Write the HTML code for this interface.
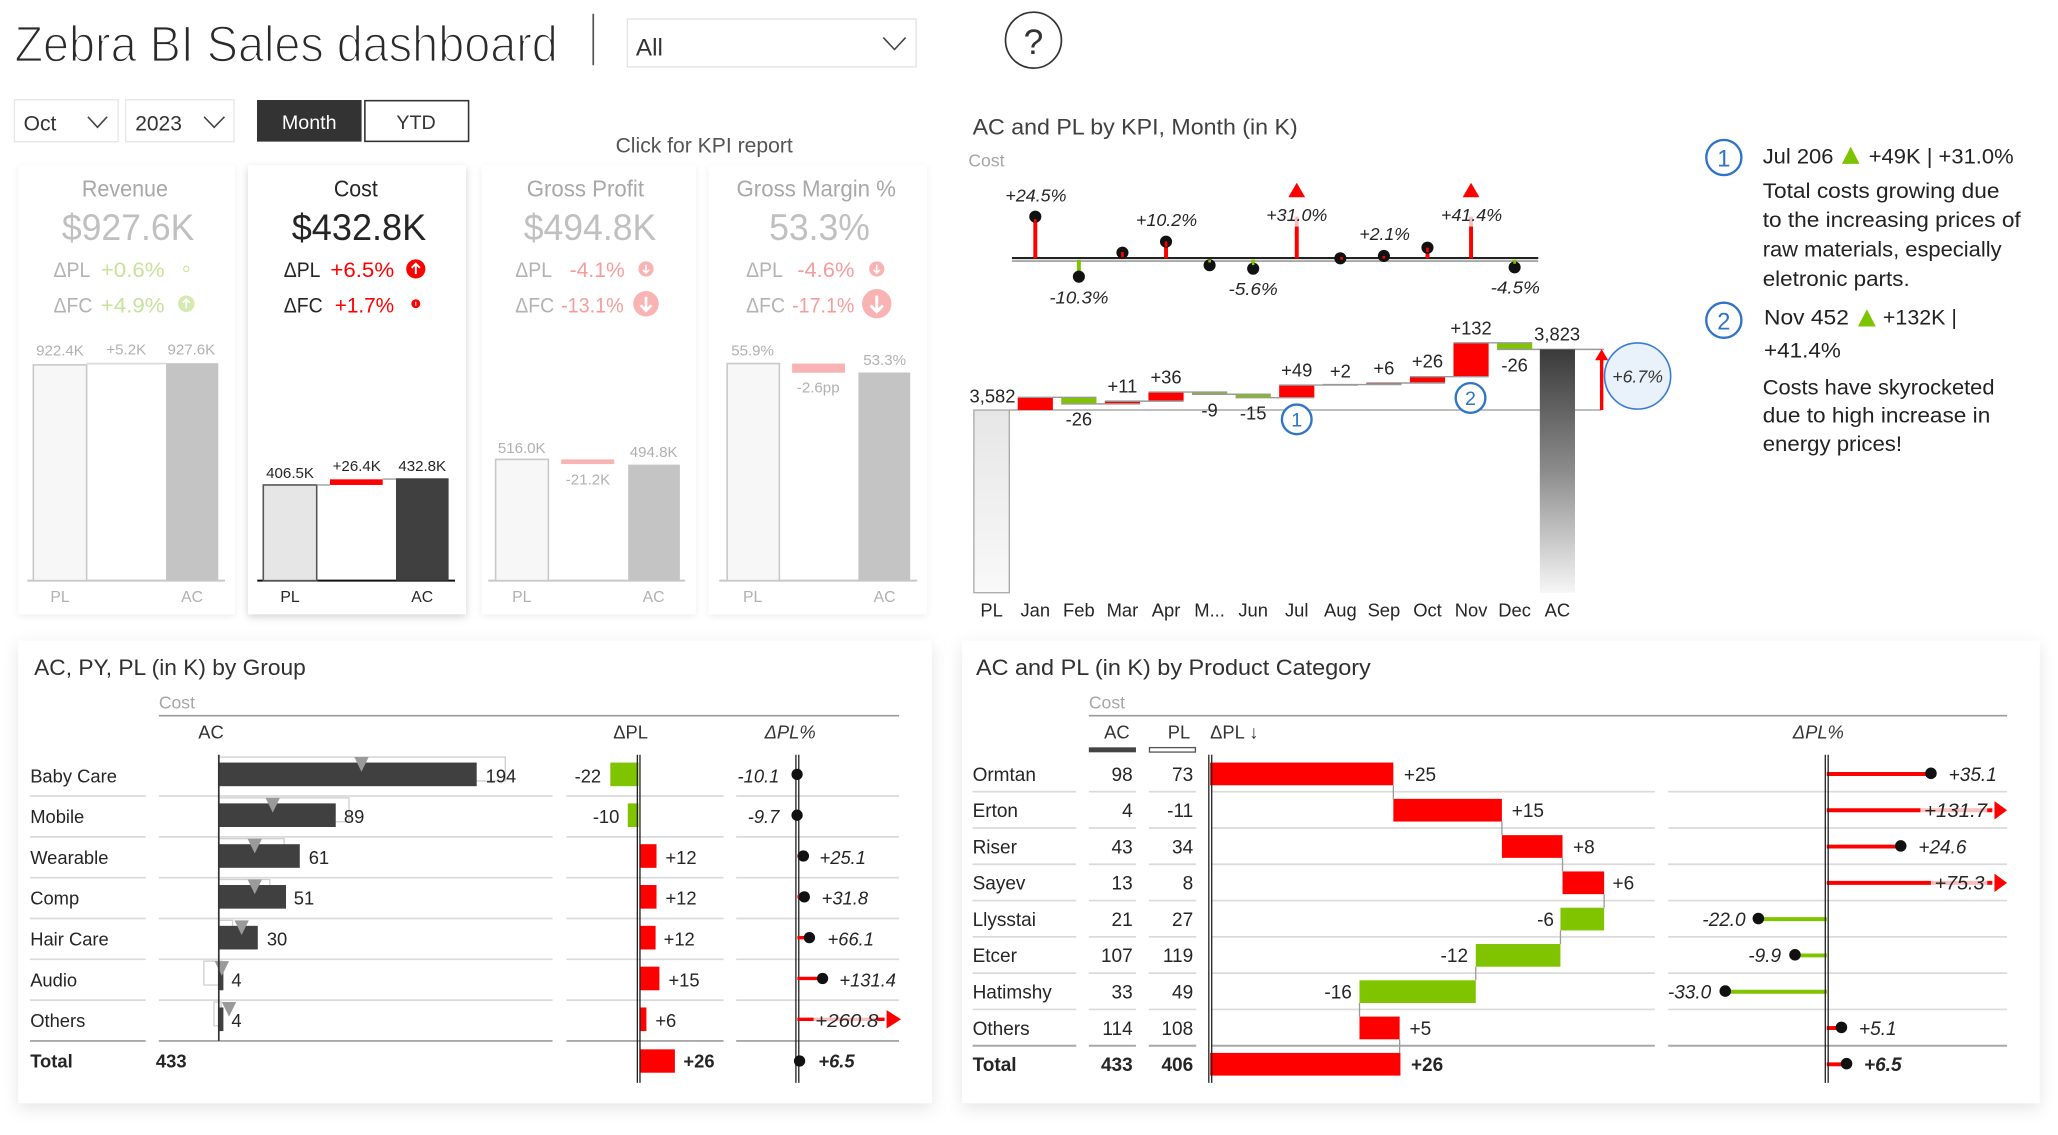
<!DOCTYPE html>
<html><head><meta charset="utf-8"><style>
html,body{margin:0;padding:0;background:#fff;overflow:hidden;width:2058px;height:1135px}
svg{display:block}
text{font-family:"Liberation Sans","DejaVu Sans",sans-serif}
.i{font-style:italic}
.b{font-weight:bold}
</style></head><body>
<svg width="2058" height="1135" viewBox="0 0 1568 864.76" xmlns="http://www.w3.org/2000/svg">
<defs>
<filter id="sh1" x="-20%" y="-10%" width="140%" height="125%"><feDropShadow dx="0" dy="1.5" stdDeviation="2.5" flood-color="#000" flood-opacity="0.07"/></filter>
<filter id="sh2" x="-20%" y="-10%" width="140%" height="125%"><feDropShadow dx="0" dy="2" stdDeviation="3" flood-color="#000" flood-opacity="0.18"/></filter>
<filter id="sh3" x="-5%" y="-10%" width="110%" height="125%"><feDropShadow dx="0" dy="4" stdDeviation="6" flood-color="#000" flood-opacity="0.1"/></filter>
<linearGradient id="acg" x1="0" y1="0" x2="0" y2="1"><stop offset="0" stop-color="#3a3a3a"/><stop offset="0.5" stop-color="#8c8c8c"/><stop offset="1" stop-color="#f6f6f6"/></linearGradient>
<linearGradient id="plg" x1="0" y1="0" x2="0" y2="1"><stop offset="0" stop-color="#e6e6e6"/><stop offset="1" stop-color="#f9f9f9"/></linearGradient>
</defs>

<!-- HEADER -->
<text x="11" y="46.7" font-size="38.5" fill="#2a2a2a" stroke="#fff" stroke-width="1.3" textLength="414" lengthAdjust="spacingAndGlyphs">Zebra BI Sales dashboard</text>
<line x1="452" y1="10.5" x2="452" y2="49.7" stroke="#555" stroke-width="1.3"/>
<rect x="478" y="14.5" width="220" height="36.5" fill="#fff" stroke="#e3e3e3" stroke-width="1"/>
<text x="484.5" y="42.2" font-size="18.5" fill="#333">All</text>
<polyline points="673,28.6 681.5,37.7 690,28.6" fill="none" stroke="#444" stroke-width="1.2"/>
<circle cx="787.4" cy="30.6" r="21.3" fill="none" stroke="#333" stroke-width="1.3"/>
<text x="787.4" y="41" font-size="27" fill="#333" text-anchor="middle">?</text>

<rect x="11" y="76" width="79" height="32" fill="#fff" stroke="#e6e6e6"/>
<text x="18" y="99.4" font-size="16" fill="#333">Oct</text>
<polyline points="67,89 74.3,97 81.6,89" fill="none" stroke="#444" stroke-width="1.2"/>
<rect x="95.7" y="76" width="82.6" height="32" fill="#fff" stroke="#e6e6e6"/>
<text x="103" y="99.4" font-size="16" fill="#333">2023</text>
<polyline points="155.5,89 163.2,97 171,89" fill="none" stroke="#444" stroke-width="1.2"/>
<rect x="195.8" y="76.2" width="79.7" height="31.7" fill="#333"/>
<text x="235.6" y="98.2" font-size="15" fill="#fff" text-anchor="middle">Month</text>
<rect x="278" y="76.7" width="79" height="31" fill="#fff" stroke="#333" stroke-width="1.2"/>
<text x="317" y="98.2" font-size="15" fill="#333" text-anchor="middle">YTD</text>
<text x="469" y="116" font-size="16" fill="#555" textLength="135" lengthAdjust="spacingAndGlyphs">Click for KPI report</text>

<!-- KPI CARDS -->
<rect x="14" y="126" width="165" height="342" fill="#fff" filter="url(#sh1)"/>
<rect x="189" y="126" width="166" height="342" fill="#fff" filter="url(#sh2)"/>
<rect x="367" y="126" width="163" height="342" fill="#fff" filter="url(#sh1)"/>
<rect x="540" y="126" width="166" height="342" fill="#fff" filter="url(#sh1)"/>

<!-- Revenue -->
<text x="95.2" y="149.7" font-size="17.5" fill="#a8a8a8" text-anchor="middle" textLength="65.6" lengthAdjust="spacingAndGlyphs">Revenue</text>
<text x="97.6" y="182.9" font-size="28.5" fill="#c0c0c0" text-anchor="middle" textLength="101" lengthAdjust="spacingAndGlyphs">$927.6K</text>
<text x="40.8" y="210.9" font-size="16.5" fill="#b3b3b3" textLength="28" lengthAdjust="spacingAndGlyphs">ΔPL</text>
<text x="76.8" y="210.9" font-size="16.5" fill="#c6e29b" textLength="48.6" lengthAdjust="spacingAndGlyphs">+0.6%</text>
<circle cx="141.9" cy="204.9" r="2" fill="none" stroke="#cfe6ab" stroke-width="1"/>
<text x="40.8" y="238" font-size="16.5" fill="#b3b3b3" textLength="29.6" lengthAdjust="spacingAndGlyphs">ΔFC</text>
<text x="76.8" y="238" font-size="16.5" fill="#c6e29b" textLength="48.6" lengthAdjust="spacingAndGlyphs">+4.9%</text>
<circle cx="141.9" cy="231.4" r="6.3" fill="#d4eab0"/>
<path d="M141.9 234.87V227.93M139.25 230.64L141.9 227.93L144.55 230.64" fill="none" stroke="#fff" stroke-width="1.3"/>
<line x1="20.8" y1="442.4" x2="171.4" y2="442.4" stroke="#c8c8c8" stroke-width="1.5"/>
<rect x="25.4" y="278" width="40.6" height="164.4" fill="#f7f7f7" stroke="#c8c8c8" stroke-width="1.2"/>
<line x1="66" y1="277" x2="126.5" y2="277" stroke="#dcdcdc" stroke-width="1.5"/>
<rect x="126.5" y="276.7" width="39.8" height="165.7" fill="#c4c4c4"/>
<text x="45.7" y="271" font-size="11.5" fill="#b0b0b0" text-anchor="middle">922.4K</text>
<text x="96.2" y="270" font-size="11.5" fill="#b0b0b0" text-anchor="middle">+5.2K</text>
<text x="145.8" y="270" font-size="11.5" fill="#b0b0b0" text-anchor="middle">927.6K</text>
<text x="45.7" y="458.5" font-size="12" fill="#b0b0b0" text-anchor="middle">PL</text>
<text x="146.3" y="458.5" font-size="12" fill="#b0b0b0" text-anchor="middle">AC</text>

<!-- Cost -->
<text x="271.1" y="149.7" font-size="17.5" fill="#252525" text-anchor="middle" textLength="33.5" lengthAdjust="spacingAndGlyphs">Cost</text>
<text x="273.5" y="182.9" font-size="28.5" fill="#252525" text-anchor="middle" textLength="102.5" lengthAdjust="spacingAndGlyphs">$432.8K</text>
<text x="216.2" y="210.9" font-size="16.5" fill="#252525" textLength="28" lengthAdjust="spacingAndGlyphs">ΔPL</text>
<text x="251.7" y="210.9" font-size="16.5" fill="#f00" textLength="48.6" lengthAdjust="spacingAndGlyphs">+6.5%</text>
<circle cx="316.8" cy="204.9" r="7.3" fill="#f00"/>
<path d="M316.8 208.9V200.9M313.73 204.02L316.8 200.9L319.87 204.02" fill="none" stroke="#fff" stroke-width="1.5"/>
<text x="216.2" y="238" font-size="16.5" fill="#252525" textLength="29.6" lengthAdjust="spacingAndGlyphs">ΔFC</text>
<text x="255" y="238" font-size="16.5" fill="#f00" textLength="45.3" lengthAdjust="spacingAndGlyphs">+1.7%</text>
<circle cx="316.8" cy="231.4" r="3.4" fill="#f00"/>
<path d="M316.8 233V229.8" stroke="#fff" stroke-width="0.8"/>
<line x1="196" y1="442.4" x2="346.7" y2="442.4" stroke="#111" stroke-width="1.5"/>
<rect x="200.6" y="369.5" width="40.7" height="72.9" fill="#e6e6e6" stroke="#555" stroke-width="1.2"/>
<line x1="241.3" y1="369.5" x2="251.4" y2="369.5" stroke="#999" stroke-width="1"/>
<rect x="251.4" y="365.2" width="40.2" height="4.3" fill="#f00"/>
<line x1="291.6" y1="365" x2="301.7" y2="365" stroke="#999" stroke-width="1"/>
<rect x="301.7" y="364.4" width="40.1" height="78" fill="#404040"/>
<text x="221" y="364" font-size="11.5" fill="#252525" text-anchor="middle">406.5K</text>
<text x="271.8" y="359" font-size="11.5" fill="#252525" text-anchor="middle">+26.4K</text>
<text x="321.7" y="359" font-size="11.5" fill="#252525" text-anchor="middle">432.8K</text>
<text x="221" y="458.5" font-size="12" fill="#252525" text-anchor="middle">PL</text>
<text x="321.7" y="458.5" font-size="12" fill="#252525" text-anchor="middle">AC</text>

<!-- Gross Profit -->
<text x="446" y="149.7" font-size="17.5" fill="#a8a8a8" text-anchor="middle" textLength="89.4" lengthAdjust="spacingAndGlyphs">Gross Profit</text>
<text x="449.5" y="182.9" font-size="28.5" fill="#c0c0c0" text-anchor="middle" textLength="101" lengthAdjust="spacingAndGlyphs">$494.8K</text>
<text x="392.6" y="210.9" font-size="16.5" fill="#b3b3b3" textLength="28" lengthAdjust="spacingAndGlyphs">ΔPL</text>
<text x="434" y="210.9" font-size="16.5" fill="#f59d9d" textLength="42" lengthAdjust="spacingAndGlyphs">-4.1%</text>
<circle cx="492.2" cy="204.9" r="5.8" fill="#f9b3b3"/>
<path d="M492.2 201.7V208.1M489.76 205.6L492.2 208.1L494.64 205.6" fill="none" stroke="#fff" stroke-width="1.2"/>
<text x="392.6" y="238" font-size="16.5" fill="#b3b3b3" textLength="29.6" lengthAdjust="spacingAndGlyphs">ΔFC</text>
<text x="427.5" y="238" font-size="16.5" fill="#f59d9d" textLength="47.7" lengthAdjust="spacingAndGlyphs">-13.1%</text>
<circle cx="492.2" cy="231.4" r="9.7" fill="#f9b3b3"/>
<path d="M492.2 226.06V236.74M488.13 232.56L492.2 236.74L496.27 232.56" fill="none" stroke="#fff" stroke-width="2"/>
<line x1="372" y1="442.4" x2="522" y2="442.4" stroke="#c8c8c8" stroke-width="1.5"/>
<rect x="377.6" y="350" width="40.2" height="92.4" fill="#f7f7f7" stroke="#c8c8c8" stroke-width="1.2"/>
<rect x="427.6" y="350" width="40.4" height="3.6" fill="#f8b4b4"/>
<rect x="478.6" y="354" width="39.4" height="88.4" fill="#c4c4c4"/>
<text x="397.5" y="345" font-size="11.5" fill="#b0b0b0" text-anchor="middle">516.0K</text>
<text x="448" y="369" font-size="11.5" fill="#b0b0b0" text-anchor="middle">-21.2K</text>
<text x="498" y="348" font-size="11.5" fill="#b0b0b0" text-anchor="middle">494.8K</text>
<text x="397.5" y="458.5" font-size="12" fill="#b0b0b0" text-anchor="middle">PL</text>
<text x="498" y="458.5" font-size="12" fill="#b0b0b0" text-anchor="middle">AC</text>

<!-- Gross Margin -->
<text x="621.9" y="149.7" font-size="17.5" fill="#a8a8a8" text-anchor="middle" textLength="121.5" lengthAdjust="spacingAndGlyphs">Gross Margin %</text>
<text x="624.4" y="182.9" font-size="28.5" fill="#c0c0c0" text-anchor="middle" textLength="76.8" lengthAdjust="spacingAndGlyphs">53.3%</text>
<text x="568.5" y="210.9" font-size="16.5" fill="#b3b3b3" textLength="28" lengthAdjust="spacingAndGlyphs">ΔPL</text>
<text x="607.4" y="210.9" font-size="16.5" fill="#f59d9d" textLength="43.6" lengthAdjust="spacingAndGlyphs">-4.6%</text>
<circle cx="668" cy="204.9" r="5.8" fill="#f9b3b3"/>
<path d="M668 201.7V208.1M665.56 205.6L668 208.1L670.44 205.6" fill="none" stroke="#fff" stroke-width="1.2"/>
<text x="568.5" y="238" font-size="16.5" fill="#b3b3b3" textLength="29.6" lengthAdjust="spacingAndGlyphs">ΔFC</text>
<text x="603.5" y="238" font-size="16.5" fill="#f59d9d" textLength="47.5" lengthAdjust="spacingAndGlyphs">-17.1%</text>
<circle cx="668" cy="231.4" r="11.2" fill="#f9b3b3"/>
<path d="M668 225.24V237.56M663.3 232.74L668 237.56L672.7 232.74" fill="none" stroke="#fff" stroke-width="2.2"/>
<line x1="548" y1="442.4" x2="698.8" y2="442.4" stroke="#c8c8c8" stroke-width="1.5"/>
<rect x="554" y="277" width="39.8" height="165.4" fill="#f7f7f7" stroke="#c8c8c8" stroke-width="1.2"/>
<rect x="603.5" y="277" width="40.3" height="7" fill="#f8b4b4"/>
<rect x="654" y="283.8" width="39.5" height="158.6" fill="#c4c4c4"/>
<text x="573.4" y="271" font-size="11.5" fill="#b0b0b0" text-anchor="middle">55.9%</text>
<text x="623.4" y="299" font-size="11.5" fill="#b0b0b0" text-anchor="middle">-2.6pp</text>
<text x="674" y="278" font-size="11.5" fill="#b0b0b0" text-anchor="middle">53.3%</text>
<text x="573.4" y="458.5" font-size="12" fill="#b0b0b0" text-anchor="middle">PL</text>
<text x="674" y="458.5" font-size="12" fill="#b0b0b0" text-anchor="middle">AC</text>

<!-- TOP RIGHT CHART -->
<text x="741" y="102.5" font-size="17" fill="#404040" textLength="247.7" lengthAdjust="spacingAndGlyphs">AC and PL by KPI, Month (in K)</text>
<text x="737.8" y="127" font-size="13.4" fill="#a6a6a6">Cost</text>

<!-- lollipop -->
<line x1="771" y1="196.6" x2="1172" y2="196.6" stroke="#222" stroke-width="1.6"/>
<line x1="771" y1="198.9" x2="1172" y2="198.9" stroke="#888" stroke-width="1"/>
<g stroke-width="3">
<line x1="788.8" y1="196.8" x2="788.8" y2="165.1" stroke="#f00"/>
<line x1="822" y1="198" x2="822" y2="210.8" stroke="#80c400"/>
<line x1="855.2" y1="196.8" x2="855.2" y2="192.5" stroke="#f00"/>
<line x1="888.4" y1="196.8" x2="888.4" y2="184.1" stroke="#f00"/>
<line x1="921.6" y1="198" x2="921.6" y2="202.1" stroke="#80c400"/>
<line x1="954.8" y1="198" x2="954.8" y2="204.7" stroke="#80c400"/>
<line x1="988" y1="196.8" x2="988" y2="172.6" stroke="#f00"/>
<line x1="988" y1="172.6" x2="988" y2="165.1" stroke="#f9c0c0"/>
<line x1="1054.4" y1="196.8" x2="1054.4" y2="195" stroke="#f00"/>
<line x1="1087.6" y1="196.8" x2="1087.6" y2="188.7" stroke="#f00"/>
<line x1="1120.8" y1="196.8" x2="1120.8" y2="172.6" stroke="#f00"/>
<line x1="1120.8" y1="172.6" x2="1120.8" y2="165.1" stroke="#f9c0c0"/>
<line x1="1154" y1="198" x2="1154" y2="203.7" stroke="#80c400"/>
</g>
<g fill="#111">
<circle cx="788.8" cy="165.1" r="4.6"/>
<circle cx="822" cy="210.8" r="4.6"/>
<circle cx="855.2" cy="192.5" r="4.6"/>
<circle cx="888.4" cy="184.1" r="4.6"/>
<circle cx="921.6" cy="202.1" r="4.6"/>
<circle cx="954.8" cy="204.7" r="4.6"/>
<circle cx="1021.2" cy="196.8" r="4.6"/>
<circle cx="1054.4" cy="195" r="4.6"/>
<circle cx="1087.6" cy="188.7" r="4.6"/>
<circle cx="1154" cy="203.7" r="4.6"/>
</g>
<g stroke-width="2">
<line x1="788.8" y1="167" x2="788.8" y2="169.5" stroke="#f00"/>
<line x1="855.2" y1="192" x2="855.2" y2="196" stroke="#f00"/>
<line x1="888.4" y1="184" x2="888.4" y2="188" stroke="#f00"/>
<line x1="1021.2" y1="196.8" x2="1023.2" y2="196.8" stroke="#f00"/>
<line x1="1054.4" y1="195" x2="1054.4" y2="197" stroke="#f00"/>
<line x1="1087.6" y1="188.7" x2="1087.6" y2="192" stroke="#f00"/>
<line x1="921.6" y1="198" x2="921.6" y2="200" stroke="#80c400"/>
<line x1="954.8" y1="198" x2="954.8" y2="202" stroke="#80c400"/>
<line x1="1154" y1="198" x2="1154" y2="201" stroke="#80c400"/>
</g>
<polygon points="981.6,150.3 988,139.2 994.4,150.3" fill="#f00"/>
<polygon points="1114.4,150.3 1120.8,139.2 1127.2,150.3" fill="#f00"/>
<g font-size="13.2" fill="#252525" class="i" text-anchor="middle">
<text x="789.3" y="153.6" class="i" textLength="46.5" lengthAdjust="spacingAndGlyphs">+24.5%</text>
<text x="822" y="231.1" class="i" textLength="45" lengthAdjust="spacingAndGlyphs">-10.3%</text>
<text x="888.8" y="172.2" class="i" textLength="46.5" lengthAdjust="spacingAndGlyphs">+10.2%</text>
<text x="954.8" y="224.8" class="i" textLength="37.5" lengthAdjust="spacingAndGlyphs">-5.6%</text>
<text x="988" y="168.4" class="i" textLength="46.5" lengthAdjust="spacingAndGlyphs">+31.0%</text>
<text x="1055" y="182.9" class="i" textLength="38.5" lengthAdjust="spacingAndGlyphs">+2.1%</text>
<text x="1121.2" y="168.4" class="i" textLength="46.5" lengthAdjust="spacingAndGlyphs">+41.4%</text>
<text x="1154.5" y="223.5" class="i" textLength="37.5" lengthAdjust="spacingAndGlyphs">-4.5%</text>
</g>

<!-- waterfall -->
<rect x="742" y="312.4" width="27" height="139.2" fill="url(#plg)" stroke="#a8a8a8" stroke-width="1"/>
<line x1="769" y1="312.4" x2="1220" y2="312.4" stroke="#a8a8a8" stroke-width="1.1"/>
<g fill="#f00">
<rect x="775.4" y="302.7" width="26.8" height="9.7"/>
<rect x="841.8" y="305.6" width="26.8" height="2.1"/>
<rect x="875" y="298.7" width="26.8" height="6.9"/>
<rect x="974.6" y="293.4" width="26.8" height="9.6"/>
<rect x="1007.8" y="293" width="26.8" height="0.6"/>
<rect x="1041" y="291.8" width="26.8" height="1.2"/>
<rect x="1074.2" y="287" width="26.8" height="4.8"/>
<rect x="1107.4" y="261.2" width="26.8" height="25.8"/>
</g>
<g fill="#80c400">
<rect x="808.6" y="302.7" width="26.8" height="5"/>
<rect x="908.2" y="298.7" width="26.8" height="1.7"/>
<rect x="941.4" y="300.4" width="26.8" height="2.6"/>
<rect x="1140.6" y="261.2" width="26.8" height="5"/>
</g>
<g stroke="#9a9a9a" stroke-width="1.1">
<line x1="775.4" y1="302.7" x2="835.4" y2="302.7"/>
<line x1="808.6" y1="307.7" x2="868.6" y2="307.7"/>
<line x1="841.8" y1="305.6" x2="901.8" y2="305.6"/>
<line x1="875" y1="298.7" x2="935" y2="298.7"/>
<line x1="908.2" y1="300.4" x2="968.2" y2="300.4"/>
<line x1="941.4" y1="303" x2="1001.4" y2="303"/>
<line x1="974.6" y1="293.4" x2="1034.6" y2="293.4"/>
<line x1="1007.8" y1="293" x2="1067.8" y2="293"/>
<line x1="1041" y1="291.8" x2="1101" y2="291.8"/>
<line x1="1074.2" y1="287" x2="1134.2" y2="287"/>
<line x1="1107.4" y1="261.2" x2="1167.4" y2="261.2"/>
<line x1="1140.6" y1="266.2" x2="1222" y2="266.2"/>
</g>
<rect x="1173.2" y="266.2" width="26.8" height="185.4" fill="url(#acg)"/>
<line x1="1220.3" y1="312.4" x2="1220.3" y2="273" stroke="#f00" stroke-width="2.6"/>
<polygon points="1215.3,274.5 1220.3,266 1225.3,274.5" fill="#f00"/>
<circle cx="1247.7" cy="286.5" r="25.2" fill="#e9f1fb" stroke="#3a7bd5" stroke-width="1.2"/>
<text x="1247.7" y="291.5" font-size="13.5" fill="#333" class="i" text-anchor="middle">+6.7%</text>
<circle cx="988" cy="319.5" r="11.3" fill="#fff" stroke="#2f74c6" stroke-width="1.8"/>
<text x="988" y="325" font-size="15" fill="#2f74c6" text-anchor="middle">1</text>
<circle cx="1120.4" cy="303.2" r="11.3" fill="#fff" stroke="#2f74c6" stroke-width="1.8"/>
<text x="1120.4" y="308.7" font-size="15" fill="#2f74c6" text-anchor="middle">2</text>
<g font-size="14" fill="#252525" text-anchor="middle">
<text x="756.2" y="306.8">3,582</text>
<text x="822" y="324.3">-26</text>
<text x="855.2" y="298.9">+11</text>
<text x="888.4" y="292">+36</text>
<text x="921.6" y="317.5">-9</text>
<text x="954.8" y="319.5">-15</text>
<text x="988" y="287">+49</text>
<text x="1021.2" y="287.5">+2</text>
<text x="1054.4" y="285.2">+6</text>
<text x="1087.6" y="280.1">+26</text>
<text x="1120.8" y="254.7">+132</text>
<text x="1154" y="283.2">-26</text>
<text x="1186.4" y="259.6">3,823</text>
</g>
<g font-size="14" fill="#252525" text-anchor="middle">
<text x="755.5" y="469.8">PL</text>
<text x="788.8" y="469.8">Jan</text>
<text x="822" y="469.8">Feb</text>
<text x="855.2" y="469.8">Mar</text>
<text x="888.4" y="469.8">Apr</text>
<text x="921.6" y="469.8">M...</text>
<text x="954.8" y="469.8">Jun</text>
<text x="988" y="469.8">Jul</text>
<text x="1021.2" y="469.8">Aug</text>
<text x="1054.4" y="469.8">Sep</text>
<text x="1087.6" y="469.8">Oct</text>
<text x="1120.8" y="469.8">Nov</text>
<text x="1154" y="469.8">Dec</text>
<text x="1186.6" y="469.8">AC</text>
</g>

<!-- ANNOTATIONS -->
<circle cx="1313.4" cy="120" r="13.4" fill="none" stroke="#2f74c6" stroke-width="1.8"/>
<text x="1313.4" y="127" font-size="18" fill="#2f74c6" text-anchor="middle">1</text>
<text x="1343" y="124.5" font-size="16.5" fill="#222" textLength="53.9" lengthAdjust="spacingAndGlyphs">Jul 206</text>
<polygon points="1403.4,124.9 1410.1,111.7 1416.8,124.9" fill="#7dc400"/>
<text x="1423.8" y="124.5" font-size="16.5" fill="#222" textLength="110.4" lengthAdjust="spacingAndGlyphs">+49K | +31.0%</text>
<g font-size="16.5" fill="#222">
<text x="1343" y="151" textLength="180.4" lengthAdjust="spacingAndGlyphs">Total costs growing due</text>
<text x="1343" y="173" textLength="196.6" lengthAdjust="spacingAndGlyphs">to the increasing prices of</text>
<text x="1343" y="195.5" textLength="182" lengthAdjust="spacingAndGlyphs">raw materials, especially</text>
<text x="1343" y="218" textLength="112" lengthAdjust="spacingAndGlyphs">eletronic parts.</text>
</g>
<circle cx="1313.4" cy="244" r="13.4" fill="none" stroke="#2f74c6" stroke-width="1.8"/>
<text x="1313.4" y="251" font-size="18" fill="#2f74c6" text-anchor="middle">2</text>
<text x="1344" y="247.3" font-size="16.5" fill="#222" textLength="64.7" lengthAdjust="spacingAndGlyphs">Nov 452</text>
<polygon points="1415.6,248.8 1422.4,235.7 1429.2,248.8" fill="#7dc400"/>
<text x="1434.6" y="247.3" font-size="16.5" fill="#222" textLength="56.4" lengthAdjust="spacingAndGlyphs">+132K |</text>
<g font-size="16.5" fill="#222">
<text x="1344" y="272.4" textLength="58.5" lengthAdjust="spacingAndGlyphs">+41.4%</text>
<text x="1343" y="300.5" textLength="176.6" lengthAdjust="spacingAndGlyphs">Costs have skyrocketed</text>
<text x="1343" y="322" textLength="173.4" lengthAdjust="spacingAndGlyphs">due to high increase in</text>
<text x="1343" y="343.5" textLength="106.2" lengthAdjust="spacingAndGlyphs">energy prices!</text>
</g>

<!-- BOTTOM LEFT CARD -->
<rect x="14" y="488" width="696" height="352.5" fill="#fff" filter="url(#sh3)"/>
<text x="26" y="514.3" font-size="17" fill="#303030" textLength="207" lengthAdjust="spacingAndGlyphs">AC, PY, PL (in K) by Group</text>
<text x="121" y="539.7" font-size="13.4" fill="#a6a6a6">Cost</text>
<line x1="121" y1="545.3" x2="685" y2="545.3" stroke="#9a9a9a" stroke-width="1.3"/>
<text x="160.8" y="562.5" font-size="14" fill="#333" text-anchor="middle">AC</text>
<text x="480.5" y="562.5" font-size="14" fill="#333" text-anchor="middle">ΔPL</text>
<text x="602" y="562.5" font-size="14" fill="#333" text-anchor="middle" class="i">ΔPL%</text>
<g stroke="#dadada" stroke-width="1.3">
<line x1="22.8" y1="606.5" x2="111" y2="606.5"/><line x1="121" y1="606.5" x2="421" y2="606.5"/><line x1="431.6" y1="606.5" x2="551.3" y2="606.5"/><line x1="560.9" y1="606.5" x2="685" y2="606.5"/>
<line x1="22.8" y1="637.6" x2="111" y2="637.6"/><line x1="121" y1="637.6" x2="421" y2="637.6"/><line x1="431.6" y1="637.6" x2="551.3" y2="637.6"/><line x1="560.9" y1="637.6" x2="685" y2="637.6"/>
<line x1="22.8" y1="668.7" x2="111" y2="668.7"/><line x1="121" y1="668.7" x2="421" y2="668.7"/><line x1="431.6" y1="668.7" x2="551.3" y2="668.7"/><line x1="560.9" y1="668.7" x2="685" y2="668.7"/>
<line x1="22.8" y1="699.8" x2="111" y2="699.8"/><line x1="121" y1="699.8" x2="421" y2="699.8"/><line x1="431.6" y1="699.8" x2="551.3" y2="699.8"/><line x1="560.9" y1="699.8" x2="685" y2="699.8"/>
<line x1="22.8" y1="730.9" x2="111" y2="730.9"/><line x1="121" y1="730.9" x2="421" y2="730.9"/><line x1="431.6" y1="730.9" x2="551.3" y2="730.9"/><line x1="560.9" y1="730.9" x2="685" y2="730.9"/>
<line x1="22.8" y1="762" x2="111" y2="762"/><line x1="121" y1="762" x2="421" y2="762"/><line x1="431.6" y1="762" x2="551.3" y2="762"/><line x1="560.9" y1="762" x2="685" y2="762"/>
</g>
<g stroke="#a8a8a8" stroke-width="1.5">
<line x1="22.8" y1="793.1" x2="111" y2="793.1"/><line x1="121" y1="793.1" x2="421" y2="793.1"/><line x1="431.6" y1="793.1" x2="551.3" y2="793.1"/><line x1="560.9" y1="793.1" x2="685" y2="793.1"/>
</g>
<g font-size="14" fill="#252525">
<text x="23" y="596">Baby Care</text>
<text x="23" y="627.1">Mobile</text>
<text x="23" y="658.2">Wearable</text>
<text x="23" y="689.3">Comp</text>
<text x="23" y="720.4">Hair Care</text>
<text x="23" y="751.5">Audio</text>
<text x="23" y="782.6">Others</text>
<text x="23" y="813.5" class="b">Total</text>
<text x="118.8" y="813.5" class="b">433</text>
</g>
<!-- AC bars -->
<g fill="#fff" stroke="#cfcfcf" stroke-width="1">
<rect x="166.7" y="576.8" width="218.3" height="18.2"/>
<rect x="166.7" y="607.9" width="99.2" height="18.2"/>
<rect x="166.7" y="639" width="49.8" height="18.2"/>
<rect x="166.7" y="670.1" width="38.9" height="18.2"/>
<rect x="166.7" y="701.2" width="10.5" height="18.2"/>
<rect x="155.3" y="732.3" width="13.7" height="18.2"/>
<rect x="163" y="763.4" width="5.5" height="18.2"/>
</g>
<g fill="#404040">
<rect x="166.7" y="581" width="196.5" height="18"/>
<rect x="166.7" y="612.1" width="89.1" height="18"/>
<rect x="166.7" y="643.2" width="61.7" height="18"/>
<rect x="166.7" y="674.3" width="51.2" height="18"/>
<rect x="166.7" y="705.4" width="29.7" height="18"/>
<rect x="166.7" y="736.5" width="3.5" height="18"/>
<rect x="166.7" y="767.6" width="3.5" height="18"/>
</g>
<g fill="#9a9a9a">
<polygon points="269.9,576.8 280.9,576.8 275.4,588"/>
<polygon points="202.3,607.9 213.3,607.9 207.8,619.1"/>
<polygon points="188.6,639 199.6,639 194.1,650.2"/>
<polygon points="188.6,670.1 199.6,670.1 194.1,681.3"/>
<polygon points="178.6,701.2 189.6,701.2 184.1,712.4"/>
<polygon points="163.5,732.3 174.5,732.3 169,743.5"/>
<polygon points="169,763.4 180,763.4 174.5,774.6"/>
</g>
<line x1="166.7" y1="575" x2="166.7" y2="793" stroke="#333" stroke-width="1.3"/>
<g font-size="14" fill="#252525">
<text x="370" y="596">194</text>
<text x="262" y="627.1">89</text>
<text x="235.2" y="658.2">61</text>
<text x="223.8" y="689.3">51</text>
<text x="203.3" y="720.4">30</text>
<text x="176.3" y="751.5">4</text>
<text x="176.3" y="782.6">4</text>
</g>
<!-- ΔPL -->
<g fill="#80c400">
<rect x="465" y="581" width="21.5" height="18"/>
<rect x="478.3" y="612.1" width="8.2" height="18"/>
</g>
<g fill="#f00">
<rect x="487.4" y="643.2" width="12.8" height="18"/>
<rect x="487.4" y="674.3" width="12.8" height="18"/>
<rect x="487.4" y="705.4" width="12.1" height="18"/>
<rect x="487.4" y="736.5" width="15" height="18"/>
<rect x="487.4" y="767.6" width="5.1" height="18"/>
<rect x="487.4" y="799.5" width="26.8" height="17.8"/>
</g>
<line x1="485.6" y1="575" x2="485.6" y2="825" stroke="#222" stroke-width="1"/>
<line x1="487.6" y1="575" x2="487.6" y2="825" stroke="#222" stroke-width="1"/>
<g font-size="14" fill="#252525">
<text x="458" y="596" text-anchor="end">-22</text>
<text x="471.9" y="627.1" text-anchor="end">-10</text>
<text x="507" y="658.2">+12</text>
<text x="507" y="689.3">+12</text>
<text x="505.6" y="720.4">+12</text>
<text x="509.3" y="751.5">+15</text>
<text x="499.3" y="782.6">+6</text>
<text x="520.7" y="813.5" class="b">+26</text>
</g>
<!-- ΔPL% -->
<line x1="606.4" y1="575" x2="606.4" y2="825" stroke="#222" stroke-width="1"/>
<line x1="608.6" y1="575" x2="608.6" y2="825" stroke="#222" stroke-width="1"/>
<g stroke="#f00" stroke-width="2.6">
<line x1="607.5" y1="652.2" x2="612.1" y2="652.2"/>
<line x1="607.5" y1="683.3" x2="612.8" y2="683.3"/>
<line x1="607.5" y1="714.4" x2="616.7" y2="714.4"/>
<line x1="607.5" y1="745.5" x2="626.7" y2="745.5"/>
<line x1="607.5" y1="776.6" x2="620" y2="776.6"/>
</g>
<line x1="620" y1="776.6" x2="668" y2="776.6" stroke="#f9c0c0" stroke-width="2.6"/>
<line x1="668" y1="776.6" x2="674" y2="776.6" stroke="#f00" stroke-width="2.6"/>
<polygon points="675.5,769.6 686.5,776.6 675.5,783.6" fill="#f00"/>
<g fill="#111">
<circle cx="607.3" cy="590" r="4.3"/>
<circle cx="607.3" cy="621.1" r="4.3"/>
<circle cx="612.1" cy="652.2" r="4.3"/>
<circle cx="612.8" cy="683.3" r="4.3"/>
<circle cx="616.7" cy="714.4" r="4.3"/>
<circle cx="626.7" cy="745.5" r="4.3"/>
<circle cx="609.2" cy="808.4" r="4.3"/>
</g>
<g font-size="14" fill="#252525" class="i">
<text x="593.8" y="596" text-anchor="end" class="i">-10.1</text>
<text x="593.8" y="627.1" text-anchor="end" class="i">-9.7</text>
<text x="624.4" y="658.2" class="i">+25.1</text>
<text x="626" y="689.3" class="i">+31.8</text>
<text x="630.5" y="720.4" class="i">+66.1</text>
<text x="639.5" y="751.5" class="i">+131.4</text>
<text x="621.2" y="782.6" class="i" textLength="48" lengthAdjust="spacingAndGlyphs">+260.8</text>
<text x="623.5" y="813.5" class="i b">+6.5</text>
</g>

<!-- BOTTOM RIGHT CARD -->
<rect x="733" y="488" width="821" height="352.5" fill="#fff" filter="url(#sh3)"/>
<text x="743.6" y="514.3" font-size="17" fill="#303030" textLength="300.8" lengthAdjust="spacingAndGlyphs">AC and PL (in K) by Product Category</text>
<text x="829.6" y="539.7" font-size="13.4" fill="#a6a6a6">Cost</text>
<line x1="829.6" y1="545.3" x2="1529.2" y2="545.3" stroke="#9a9a9a" stroke-width="1.3"/>
<g font-size="14" fill="#333">
<text x="851" y="562.5" text-anchor="middle">AC</text>
<text x="898.3" y="562.5" text-anchor="middle">PL</text>
<text x="922" y="562.5">ΔPL ↓</text>
<text x="1385.4" y="562.5" text-anchor="middle" class="i">ΔPL%</text>
</g>
<rect x="829.6" y="569.4" width="35.9" height="3.8" fill="#444"/>
<rect x="875.8" y="569.6" width="35" height="3.4" fill="#fff" stroke="#555" stroke-width="1"/>
<g stroke="#dadada" stroke-width="1.3">
<line x1="741" y1="603.2" x2="820" y2="603.2"/><line x1="829.6" y1="603.2" x2="865.5" y2="603.2"/><line x1="875.3" y1="603.2" x2="911.4" y2="603.2"/><line x1="923.6" y1="603.2" x2="1260.8" y2="603.2"/><line x1="1271" y1="603.2" x2="1529.2" y2="603.2"/>
<line x1="741" y1="630.85" x2="820" y2="630.85"/><line x1="829.6" y1="630.85" x2="865.5" y2="630.85"/><line x1="875.3" y1="630.85" x2="911.4" y2="630.85"/><line x1="923.6" y1="630.85" x2="1260.8" y2="630.85"/><line x1="1271" y1="630.85" x2="1529.2" y2="630.85"/>
<line x1="741" y1="658.5" x2="820" y2="658.5"/><line x1="829.6" y1="658.5" x2="865.5" y2="658.5"/><line x1="875.3" y1="658.5" x2="911.4" y2="658.5"/><line x1="923.6" y1="658.5" x2="1260.8" y2="658.5"/><line x1="1271" y1="658.5" x2="1529.2" y2="658.5"/>
<line x1="741" y1="686.15" x2="820" y2="686.15"/><line x1="829.6" y1="686.15" x2="865.5" y2="686.15"/><line x1="875.3" y1="686.15" x2="911.4" y2="686.15"/><line x1="923.6" y1="686.15" x2="1260.8" y2="686.15"/><line x1="1271" y1="686.15" x2="1529.2" y2="686.15"/>
<line x1="741" y1="713.8" x2="820" y2="713.8"/><line x1="829.6" y1="713.8" x2="865.5" y2="713.8"/><line x1="875.3" y1="713.8" x2="911.4" y2="713.8"/><line x1="923.6" y1="713.8" x2="1260.8" y2="713.8"/><line x1="1271" y1="713.8" x2="1529.2" y2="713.8"/>
<line x1="741" y1="741.45" x2="820" y2="741.45"/><line x1="829.6" y1="741.45" x2="865.5" y2="741.45"/><line x1="875.3" y1="741.45" x2="911.4" y2="741.45"/><line x1="923.6" y1="741.45" x2="1260.8" y2="741.45"/><line x1="1271" y1="741.45" x2="1529.2" y2="741.45"/>
<line x1="741" y1="769.1" x2="820" y2="769.1"/><line x1="829.6" y1="769.1" x2="865.5" y2="769.1"/><line x1="875.3" y1="769.1" x2="911.4" y2="769.1"/><line x1="923.6" y1="769.1" x2="1260.8" y2="769.1"/><line x1="1271" y1="769.1" x2="1529.2" y2="769.1"/>
</g>
<g stroke="#a8a8a8" stroke-width="1.5">
<line x1="741" y1="796.75" x2="820" y2="796.75"/><line x1="829.6" y1="796.75" x2="865.5" y2="796.75"/><line x1="875.3" y1="796.75" x2="911.4" y2="796.75"/><line x1="923.6" y1="796.75" x2="1260.8" y2="796.75"/><line x1="1271" y1="796.75" x2="1529.2" y2="796.75"/>
</g>
<g font-size="14.5" fill="#252525">
<text x="741" y="594.9">Ormtan</text>
<text x="741" y="622.5">Erton</text>
<text x="741" y="650.2">Riser</text>
<text x="741" y="677.8">Sayev</text>
<text x="741" y="705.5">Llysstai</text>
<text x="741" y="733.1">Etcer</text>
<text x="741" y="760.8">Hatimshy</text>
<text x="741" y="788.4">Others</text>
<text x="741" y="816.1" class="b">Total</text>
</g>
<g font-size="14.5" fill="#252525" text-anchor="end">
<text x="863" y="594.9">98</text><text x="909.1" y="594.9">73</text>
<text x="863" y="622.5">4</text><text x="909.1" y="622.5">-11</text>
<text x="863" y="650.2">43</text><text x="909.1" y="650.2">34</text>
<text x="863" y="677.8">13</text><text x="909.1" y="677.8">8</text>
<text x="863" y="705.5">21</text><text x="909.1" y="705.5">27</text>
<text x="863" y="733.1">107</text><text x="909.1" y="733.1">119</text>
<text x="863" y="760.8">33</text><text x="909.1" y="760.8">49</text>
<text x="863" y="788.4">114</text><text x="909.1" y="788.4">108</text>
<text x="863" y="816.1" class="b">433</text><text x="909.1" y="816.1" class="b">406</text>
</g>
<!-- ΔPL waterfall -->
<g fill="#f00">
<rect x="922" y="581" width="139.6" height="17.3"/>
<rect x="1061.6" y="608.65" width="82.7" height="17.3"/>
<rect x="1144.3" y="636.3" width="46.2" height="17.3"/>
<rect x="1190.5" y="663.95" width="31.7" height="17.3"/>
<rect x="1035.8" y="774.55" width="30.6" height="17.3"/>
<rect x="922" y="802.2" width="145" height="17.3"/>
</g>
<g fill="#80c400">
<rect x="1188.9" y="691.6" width="33.3" height="17.3"/>
<rect x="1124.4" y="719.25" width="64.5" height="17.3"/>
<rect x="1035.8" y="746.9" width="88.6" height="17.3"/>
</g>
<g stroke="#9a9a9a" stroke-width="1">
<line x1="1061.6" y1="598.3" x2="1061.6" y2="608.65"/>
<line x1="1144.3" y1="625.95" x2="1144.3" y2="636.3"/>
<line x1="1190.5" y1="653.6" x2="1190.5" y2="663.95"/>
<line x1="1222.2" y1="681.25" x2="1222.2" y2="691.6"/>
<line x1="1188.9" y1="708.9" x2="1188.9" y2="719.25"/>
<line x1="1124.4" y1="736.55" x2="1124.4" y2="746.9"/>
<line x1="1035.8" y1="764.2" x2="1035.8" y2="774.55"/>
<line x1="1066.4" y1="791.85" x2="1066.4" y2="802.2"/>
</g>
<line x1="921" y1="575" x2="921" y2="825" stroke="#222" stroke-width="1"/>
<line x1="923.2" y1="575" x2="923.2" y2="825" stroke="#222" stroke-width="1"/>
<g font-size="14.5" fill="#252525">
<text x="1069.6" y="594.9">+25</text>
<text x="1151.8" y="622.5">+15</text>
<text x="1198.5" y="650.2">+8</text>
<text x="1228.6" y="677.8">+6</text>
<text x="1184" y="705.5" text-anchor="end">-6</text>
<text x="1118.5" y="733.1" text-anchor="end">-12</text>
<text x="1030" y="760.8" text-anchor="end">-16</text>
<text x="1073.9" y="788.4">+5</text>
<text x="1075" y="816.1" class="b">+26</text>
</g>
<!-- ΔPL% -->
<g stroke="#f00" stroke-width="3">
<line x1="1391.8" y1="589.7" x2="1471.2" y2="589.7"/>
<line x1="1391.8" y1="617.35" x2="1463.2" y2="617.35"/>
<line x1="1391.8" y1="645" x2="1448.2" y2="645"/>
<line x1="1391.8" y1="672.65" x2="1471.2" y2="672.65"/>
<line x1="1391.8" y1="783.25" x2="1403" y2="783.25"/>
<line x1="1391.8" y1="810.9" x2="1406.9" y2="810.9"/>
<line x1="1514" y1="617.35" x2="1518" y2="617.35"/>
<line x1="1514" y1="672.65" x2="1518" y2="672.65"/>
</g>
<line x1="1463.2" y1="617.35" x2="1514" y2="617.35" stroke="#f9c0c0" stroke-width="3"/>
<line x1="1471.2" y1="672.65" x2="1514" y2="672.65" stroke="#f9c0c0" stroke-width="3"/>
<polygon points="1519.6,610.35 1529.2,617.35 1519.6,624.35" fill="#f00"/>
<polygon points="1519.6,665.65 1529.2,672.65 1519.6,679.65" fill="#f00"/>
<g stroke="#80c400" stroke-width="3">
<line x1="1339.7" y1="700.3" x2="1391.8" y2="700.3"/>
<line x1="1367.6" y1="727.95" x2="1391.8" y2="727.95"/>
<line x1="1314.5" y1="755.6" x2="1391.8" y2="755.6"/>
</g>
<line x1="1390.7" y1="575" x2="1390.7" y2="825" stroke="#222" stroke-width="1"/>
<line x1="1392.9" y1="575" x2="1392.9" y2="825" stroke="#222" stroke-width="1"/>
<g fill="#111">
<circle cx="1471.2" cy="589.2" r="4.4"/>
<circle cx="1448.2" cy="644.5" r="4.4"/>
<circle cx="1339.7" cy="699.8" r="4.4"/>
<circle cx="1367.6" cy="727.45" r="4.4"/>
<circle cx="1314.5" cy="755.1" r="4.4"/>
<circle cx="1403" cy="782.75" r="4.4"/>
<circle cx="1406.9" cy="810.4" r="4.4"/>
</g>
<g font-size="14.5" fill="#252525">
<text x="1484.7" y="594.9" class="i">+35.1</text>
<text x="1466" y="622.5" class="i" textLength="48" lengthAdjust="spacingAndGlyphs">+131.7</text>
<text x="1461.6" y="650.2" class="i">+24.6</text>
<text x="1474" y="677.8" class="i" textLength="38" lengthAdjust="spacingAndGlyphs">+75.3</text>
<text x="1330" y="705.5" class="i" text-anchor="end">-22.0</text>
<text x="1357" y="733.1" class="i" text-anchor="end">-9.9</text>
<text x="1303.8" y="760.8" class="i" text-anchor="end">-33.0</text>
<text x="1416.4" y="788.4" class="i">+5.1</text>
<text x="1420.2" y="816.1" class="i b">+6.5</text>
</g>
</svg>
</body></html>
